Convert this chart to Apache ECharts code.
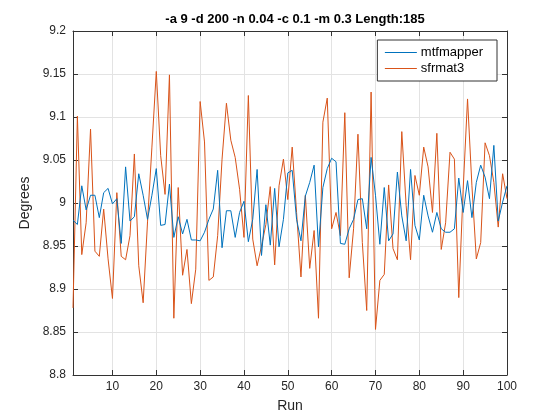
<!DOCTYPE html>
<html>
<head>
<meta charset="utf-8">
<script src="https://cdn.jsdelivr.net/npm/echarts@6/dist/echarts.min.js"></script>
<style>html,body{margin:0;padding:0;background:#fff}#c{width:560px;height:420px}</style>
</head>
<body>
<div id="c"></div>
<script>
var titleText = '-a 9 -d 200 -n 0.04 -c 0.1 -m 0.3 Length:185';
var runs = Array.from({length: 100}, function (_, i) { return String(i + 1); });
var mtfmapper = [
8.980,8.975,9.020,8.992,9.009,9.009,8.983,9.012,9.017,8.999,
9.005,8.953,9.042,8.979,8.984,9.034,9.009,8.981,9.009,9.040,
8.974,8.975,9.022,8.960,8.984,8.964,8.981,8.957,8.957,8.956,
8.966,8.981,8.993,9.038,8.948,8.991,8.991,8.960,8.989,9.002,
8.955,8.981,9.039,8.939,8.998,8.951,9.017,8.949,8.981,9.035,
9.038,8.981,8.956,9.008,9.024,9.044,8.949,9.018,9.040,9.052,
9.048,8.953,8.952,8.970,8.981,9.004,9.005,8.970,9.053,9.009,
8.952,9.018,8.956,8.964,9.036,8.985,8.956,9.039,8.974,8.957,
9.009,8.985,8.966,8.989,8.970,8.966,8.966,8.970,9.029,8.989,
9.026,8.983,9.024,9.044,9.030,9.005,9.067,8.979,9.001,9.020
];
var sfrmat3 = [
8.878,9.101,8.940,8.977,9.086,8.944,8.938,8.993,8.935,8.889,
9.012,8.938,8.934,8.962,9.057,8.927,8.884,8.978,9.065,9.153,
9.055,9.010,9.149,8.866,9.018,8.916,8.946,8.883,8.923,9.118,
9.071,8.910,8.914,8.962,9.051,9.116,9.073,9.053,9.016,8.960,
9.125,8.958,8.927,8.950,8.975,9.019,8.928,9.020,9.051,9.004,
9.065,8.989,8.914,9.009,8.924,8.968,8.866,9.094,9.122,8.970,
8.989,8.962,9.105,8.913,8.970,9.080,8.954,8.875,9.129,8.853,
8.910,8.917,9.021,8.947,8.934,9.083,8.997,8.934,9.032,9.009,
9.065,9.042,8.989,9.081,8.946,8.977,9.059,9.051,8.890,9.016,
9.121,9.020,8.935,8.954,9.070,9.055,9.024,8.972,9.034,9.005
];
var xName = 'Run';
var yName = 'Degrees';

var FONT = 'Liberation Sans, Arial, Helvetica, sans-serif';
var AX = '#333333';
var tickFn = function (idx) { return (idx + 1) % 10 === 0; };

var chart = echarts.init(document.getElementById('c'));
chart.setOption({
  animation: false,
  backgroundColor: '#fff',
  textStyle: {fontFamily: FONT},
  title: {
    text: titleText, left: 290, top: 8, textAlign: 'center',
    textStyle: {fontFamily: FONT, fontSize: 13, fontWeight: 'bold', color: '#000'}
  },
  legend: {
    orient: 'vertical', right: 63, top: 40,
    backgroundColor: '#fff', borderColor: AX, borderWidth: 1,
    padding: [6, 14, 6, 7], itemGap: 3, itemWidth: 32, itemHeight: 13,
    itemStyle: {opacity: 0},
    lineStyle: {width: 1},
    textStyle: {fontFamily: FONT, fontSize: 13, color: '#000', padding: [0, 0, 0, -1]},
    data: ['mtfmapper', 'sfrmat3']
  },
  grid: {left: 73, right: 53, top: 31, bottom: 45, containLabel: false},
  xAxis: [{
    type: 'category', data: runs, boundaryGap: false,
    name: xName, nameLocation: 'middle', nameGap: 24,
    nameTextStyle: {fontFamily: FONT, fontSize: 14, color: '#262626'},
    axisLine: {lineStyle: {color: AX, width: 1}},
    axisTick: {inside: true, length: 5, interval: tickFn, lineStyle: {color: AX}},
    axisLabel: {interval: tickFn, fontFamily: FONT, fontSize: 12, color: '#262626', margin: 6},
    splitLine: {show: true, interval: tickFn, lineStyle: {color: '#e3e3e3', width: 1}}
  }, {
    type: 'category', data: runs, boundaryGap: false, position: 'top',
    axisLine: {lineStyle: {color: AX, width: 1}},
    axisTick: {inside: true, length: 5, interval: tickFn, lineStyle: {color: AX}},
    axisLabel: {show: false}, splitLine: {show: false}
  }],
  yAxis: [{
    type: 'value', min: 8.8, max: 9.2, interval: 0.05,
    name: yName, nameLocation: 'middle', nameGap: 35,
    nameTextStyle: {fontFamily: FONT, fontSize: 14, color: '#262626'},
    axisLine: {show: true, lineStyle: {color: AX, width: 1}},
    axisTick: {show: true, inside: true, length: 5, lineStyle: {color: AX}},
    axisLabel: {fontFamily: FONT, fontSize: 12, color: '#262626', margin: 7,
      formatter: function (v) { return String(+v.toFixed(2)); }},
    splitLine: {show: true, lineStyle: {color: '#e3e3e3', width: 1}}
  }, {
    type: 'value', min: 8.8, max: 9.2, interval: 0.05, position: 'right',
    axisLine: {show: true, lineStyle: {color: AX, width: 1}},
    axisTick: {show: true, inside: true, length: 5, lineStyle: {color: AX}},
    axisLabel: {show: false}, splitLine: {show: false}
  }],
  series: [{
    name: 'mtfmapper', type: 'line', data: mtfmapper, symbol: 'none',
    lineStyle: {color: '#0072BD', width: 1}, itemStyle: {color: '#0072BD'}, z: 3
  }, {
    name: 'sfrmat3', type: 'line', data: sfrmat3, symbol: 'none',
    lineStyle: {color: '#D95319', width: 1}, itemStyle: {color: '#D95319'}, z: 2
  }]
});
</script>
</body>
</html>
